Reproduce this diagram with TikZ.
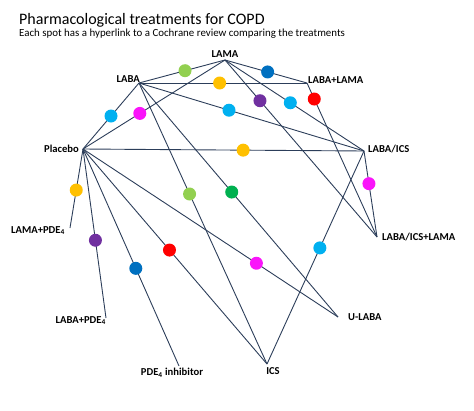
\documentclass[tikz,border=0pt]{standalone}
\usepackage{fontspec}
\setmainfont{Carlito}
\usetikzlibrary{positioning}
\definecolor{linkblue}{RGB}{44,62,90}
\definecolor{spotlime}{RGB}{146,208,80}
\definecolor{spotnavy}{RGB}{0,112,192}
\definecolor{spotamber}{RGB}{255,192,0}
\definecolor{spotsky}{RGB}{0,176,240}
\definecolor{spotpink}{RGB}{250,20,250}
\definecolor{spotviolet}{RGB}{112,48,160}
\definecolor{spotred}{RGB}{255,0,0}
\definecolor{spotgreen}{RGB}{0,176,80}
\begin{document}
\begin{tikzpicture}[x=1pt,y=-1pt]
        % Styles
        \tikzstyle{drug}=[font=\bfseries\fontsize{10.6}{12}\selectfont,inner sep=1pt]
        \tikzstyle{link}=[color=linkblue,line width=0.9pt]
        \tikzstyle{spot}=[circle,inner sep=0pt,minimum size=13pt]
        \useasboundingbox (0,0) rectangle (474,410);
        %titles
        \node[anchor=west,inner sep=0pt,font=\fontsize{16}{18}\selectfont] (title) at (19,20) {Pharmacological treatments for COPD};
        \node[anchor=west,inner sep=0pt,font=\fontsize{10.9}{12}\selectfont] (subtitle) at (19,34) {Each spot has a hyperlink to a Cochrane review comparing the treatments};
        %treatments
        \coordinate (lama) at (225,60);
        \coordinate (laba) at (139,83);
        \coordinate (labalama) at (307,83);
        \coordinate (placebo) at (83,149);
        \coordinate (labaics) at (364,151);
        \coordinate (icslama) at (377,237);
        \coordinate (lamapde) at (70,228);
        \coordinate (labapde) at (106,318);
        \coordinate (pde) at (179,366);
        \coordinate (ics) at (267,364);
        \coordinate (ulaba) at (338,317);
        \node[drug,above=1pt of lama] (lamatext) {LAMA};
        \node[drug,above left=-1pt and -2pt of laba] (labatext) {LABA};
        \node[drug,left=3pt of placebo] (placebotext) {Placebo};
        \node[drug,above right=-2pt and 0pt of labalama] (labalamatext) {LABA+LAMA};
        \node[drug,above right=-3pt and 3pt of labaics] (labaicstext) {LABA/ICS};
        \node[drug,right=4pt of icslama] (icslamatext) {LABA/ICS+LAMA};
        \node[drug,below left=-3pt and 4pt of lamapde] (lamapdetext) {LAMA+PDE\textsubscript{4}};
        \node[drug,below left=-3pt and -1pt of labapde] (labapdetext) {LABA+PDE\textsubscript{4}};
        \node[drug,below=1pt of pde,xshift=-7pt] (pdetext) {PDE\textsubscript{4} inhibitor};
        \node[drug,below=2pt of ics,xshift=6pt] (icstext) {ICS};
        \node[drug,right=9pt of ulaba] (ulabatext) {U-LABA};
        %comparisons
        \def\links{lama/laba/0.465/spotlime, lama/labalama/0.52/spotnavy, lama/placebo/0.60/spotpink,
            lama/icslama/0.23/spotviolet, lama/labaics/0.47/spotsky, laba/placebo/0.5/spotsky,
            laba/labalama/0.48/spotamber, laba/labaics/0.40/spotsky, laba/ics/0.395/spotlime,
            laba/ulaba/0.466/spotgreen, labalama/icslama/0.104/spotred, labaics/icslama/0.38/spotpink,
            labaics/ics/0.455/spotsky, placebo/labaics/0.57/spotamber, placebo/lamapde/0.52/spotamber,
            placebo/labapde/0.54/spotviolet, placebo/pde/0.55/spotnavy, placebo/ics/0.47/spotred,
            placebo/ulaba/0.68/spotpink}
        \foreach \a/\b/\p/\c in \links
            \draw[link] (\a) -- (\b);
        \foreach \a/\b/\p/\c [count=\i] in \links
            \path (\a) -- (\b) node[spot,fill=\c,pos=\p] (spot\i) {};
\end{tikzpicture}
\end{document}
